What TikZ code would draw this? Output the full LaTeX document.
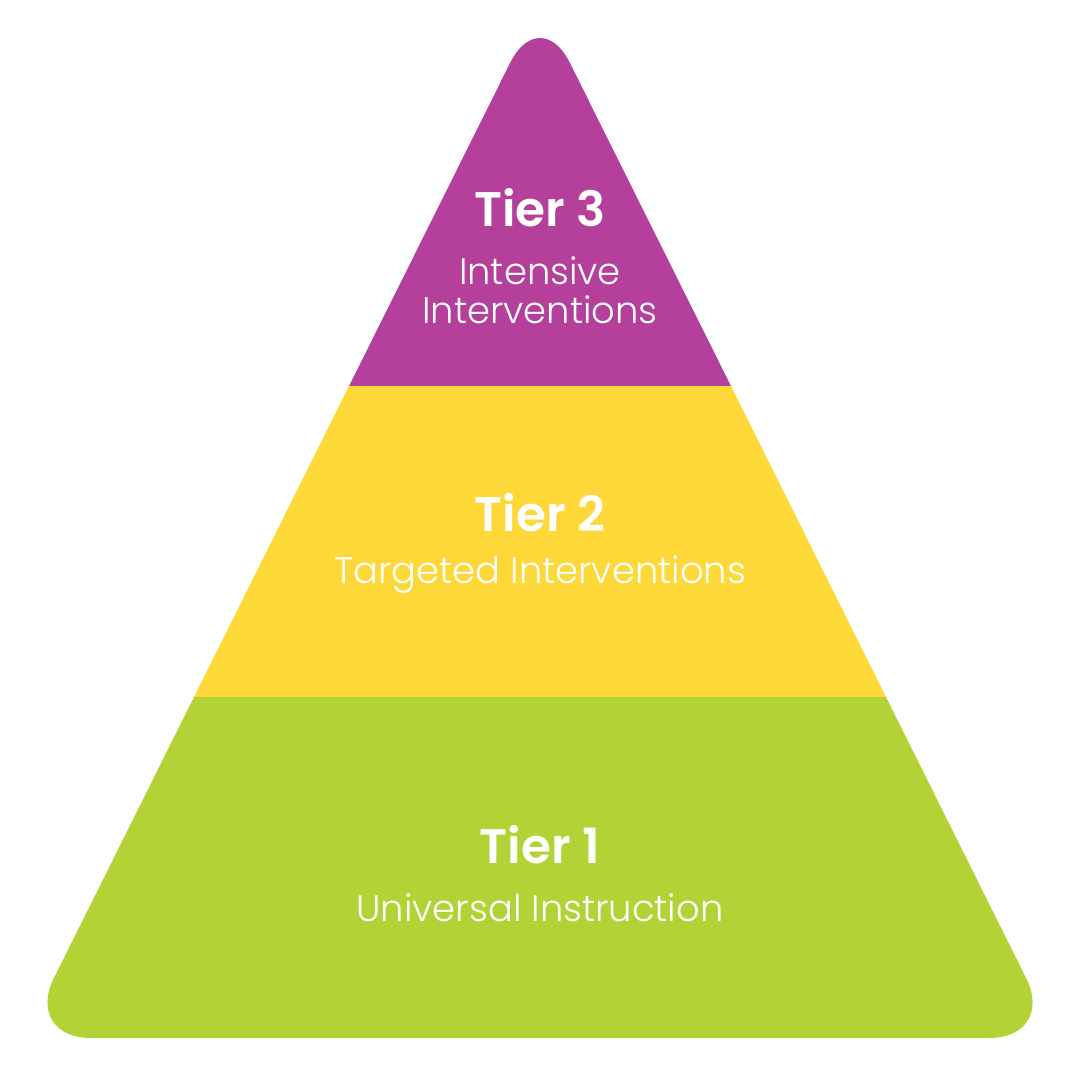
\documentclass[tikz,border=0pt]{standalone}
\usepackage{fontspec}
\setmainfont{Poppins}
\newfontfamily\plight{Poppins Light}
\newfontfamily\psemi{Poppins SemiBold}
\definecolor{purp}{HTML}{B5409B}
\definecolor{yel}{HTML}{FDD838}
\definecolor{grn}{HTML}{B3D236}
\tikzset{title/.style={text=white,font=\psemi\fontsize{13.8}{16}\selectfont},
sub/.style={text=white,font=\plight\fontsize{10.5}{11.2}\selectfont,align=center}}
\begin{document}
\begin{tikzpicture}[x=0.01cm,y=-0.01cm]
\useasboundingbox (0,0) rectangle (1080,1080);
\fill[white] (0,0) rectangle (1080,1080);
\begin{scope}
\clip[rounded corners=19pt] (540,3) -- (1056,1038) -- (24,1038) -- cycle;
\fill[purp] (0,0) rectangle (1080,386);
\fill[yel] (0,386) rectangle (1080,697);
\fill[grn] (0,697) rectangle (1080,1080);
\end{scope}
\node[title] (t3) at (540,208) {Tier 3};
\node[sub] (s3) at (540,290) {Intensive\\Interventions};
\node[title] (t2) at (540,513) {Tier 2};
\node[sub] (s2) at (540,575) {Targeted Interventions};
\node[title] (t1) at (540,845) {Tier 1};
\node[sub] (s1) at (540,908) {Universal Instruction};
\end{tikzpicture}
\end{document}
